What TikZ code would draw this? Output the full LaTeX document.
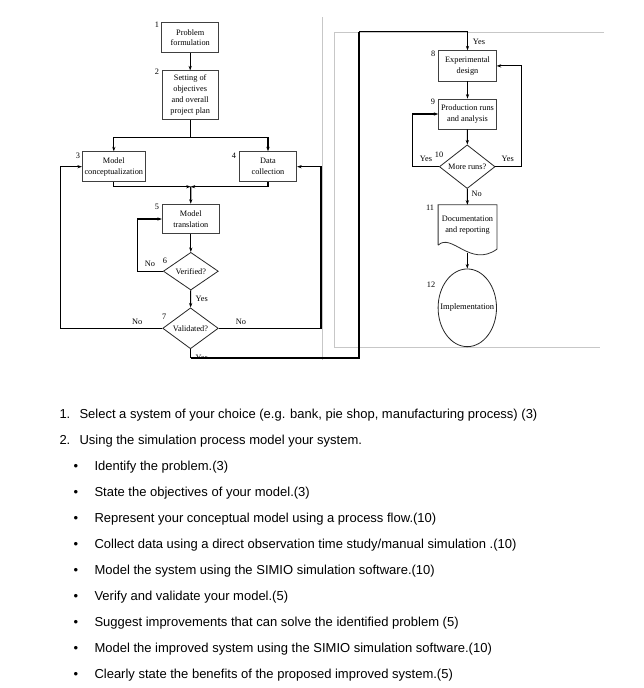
\documentclass[tikz,border=0pt]{standalone}
\usepackage{fontspec}
\setmainfont{Liberation Serif}
\newfontfamily\sansf{Liberation Sans}
\usetikzlibrary{shapes.geometric,arrows.meta}
\begin{document}
\begin{tikzpicture}[x=1pt,y=-1pt,
  conn/.style={line width=1.1pt,-{Stealth[length=4.5pt,width=3.2pt]}},
  plain/.style={line width=1.1pt},
  thickline/.style={line width=1.9pt},
  boxn/.style={draw=black!75,line width=0.8pt,inner sep=0pt,align=center,font=\fontsize{8.3}{10.8}\selectfont},
  dia/.style={diamond,draw=black!85,line width=0.8pt,inner sep=0pt,font=\fontsize{8.3}{10}\selectfont},
  lbl/.style={font=\fontsize{8.3}{10}\selectfont,inner sep=0pt},
  gline/.style={draw=black!22,line width=0.8pt},
  txt/.style={anchor=base west,inner sep=0pt,font=\sansf\fontsize{13}{15}\selectfont}
]
\useasboundingbox[fill=white] (0,0) rectangle (644,688);

% gray frame lines
\draw[gline] (322,17) -- (322,360);
\draw[gline] (604,32) -- (334,32) -- (334,347) -- (600,347);

% left flowchart
\node[boxn,minimum width=57,minimum height=30] (n1) at (190.2,37.7) {Problem\\formulation};
\node[boxn,minimum width=56.5,minimum height=48.5] (n2) at (190.2,95) {Setting of\\objectives\\and overall\\project plan};
\node[boxn,minimum width=63,minimum height=30] (n3) at (113.8,166.7) {Model\\conceptualization};
\node[boxn,minimum width=57.4,minimum height=30] (n4) at (268,166.7) {Data\\collection};
\node[boxn,minimum width=57,minimum height=29.7] (n5) at (190.8,219) {Model\\translation};
\node[dia,minimum width=55,minimum height=37.7] (d6) at (190.8,271.2) {Verified?};
\node[dia,minimum width=55.6,minimum height=38] (d7) at (190.5,328.3) {Validated?};

% right flowchart
\node[boxn,minimum width=57.6,minimum height=30.3] (n8) at (467.5,65.9) {Experimental\\design};
\node[boxn,minimum width=57.6,minimum height=30] (n9) at (467.5,114) {Production runs\\and analysis};
\node[dia,minimum width=55.7,minimum height=38.7] (d10) at (467.2,166.7) {More runs?};
\node[inner sep=0pt,minimum width=58.4,minimum height=40,align=center,font=\fontsize{8.3}{10.8}\selectfont] (n11) at (467.5,225) {Documentation\\and reporting};
\draw[draw=black!80,line width=0.8pt] (n11.south west) -- (n11.north west) -- (n11.north east) -- ([yshift=-4pt]n11.south east)
   .. controls +(-26.7,19) and +(13.7,-13) .. (n11.south west);
\node[ellipse,draw=black!85,line width=0.8pt,minimum width=58.4,minimum height=77.7,inner sep=0pt,font=\fontsize{8.5}{10}\selectfont] (e12) at (467.3,307.8) {\makebox[0pt]{Implementation}};

% step numbers
\node[lbl] (l1) at (157,25) {1};
\node[lbl] (l2) at (157,72) {2};
\node[lbl] (l3) at (78,156) {3};
\node[lbl] (l4) at (234,156) {4};
\node[lbl] (l5) at (157,207) {5};
\node[lbl] (l6) at (165,261) {6};
\node[lbl] (l7) at (164.3,316.7) {7};
\node[lbl] (l8) at (433.3,53.3) {8};
\node[lbl] (l9) at (433,102) {9};
\node[lbl] (l10) at (439,155) {10};
\node[lbl] (l11) at (430,207.3) {11};
\node[lbl] (l12) at (431,284.3) {12};

% branch labels
\node[lbl] (y6) at (150,264) {No};
\node[lbl] (y6b) at (201.7,299.3) {Yes};
\node[lbl] (y7l) at (137.3,321.7) {No};
\node[lbl] (y7r) at (241,321.7) {No};
\begin{scope}
\clip (180,345) rectangle (230,358);
\node[lbl] (y7b) at (201.7,358) {Yes};
\end{scope}
\node[lbl] (y8) at (479,41.7) {Yes};
\node[lbl] (y10l) at (426,159.3) {Yes};
\node[lbl] (y10r) at (507.7,159.3) {Yes};
\node[lbl] (y10b) at (476.7,194) {No};

% connectors left
\draw[conn] (n1) -- (n2);
\coordinate (s1) at (190.2,137.7);
\draw[plain] (n2) -- (s1);
\draw[conn] (s1) -| (n3);
\draw[conn] (s1) -| (n4);
\coordinate (m1) at (190.7,186.7);
\draw[conn] (n3) |- (m1);
\draw[conn] (n4) |- (m1);
\draw[conn] (m1) -- (n5);
\draw[conn] (n5) -- (d6);
\coordinate (c6) at (137.3,271.2);
\draw[conn] (d6) -- (c6) |- (n5);
\draw[conn] (d6) -- (d7);
\coordinate (c7l) at (60.7,328.3);
\draw[conn] (d7) -- (c7l) |- (n3);
\coordinate (c7r) at (321,328.3);
\draw[conn] (d7) -- (c7r) |- (n4);

% long connector to step 8
\coordinate (b1) at (190.5,358);
\coordinate (b2) at (359.3,358);
\coordinate (b3) at (359.3,31.7);
\draw[plain] (d7) -- (b1);
\draw[thickline] (b1) -- (b2) -- (b3);
\draw[conn] (b3) -| (n8);

% connectors right
\draw[conn] (n8) -- (n9);
\draw[conn] (n9) -- (d10);
\coordinate (c10l) at (412.7,166.7);
\draw[conn] (d10) -- (c10l) |- (n9);
\coordinate (c10r) at (521.3,166.7);
\draw[conn] (d10) -- (c10r) |- (n8);
\draw[conn] (d10) -- (n11);
\coordinate (n11b) at (467.3,252.5);
\draw[conn] (n11b) -- (e12);

% text block
\node[txt] (t1n) at (59.3,418) {1.};
\node[txt] (t1) at (79.3,418) {Select a system of your choice (e.g. bank, pie shop, manufacturing process) (3)};
\node[txt] (t2n) at (59.3,444) {2.};
\node[txt] (t2) at (79.3,444) {Using the simulation process model your system.};
\node[txt] (p1) at (73.5,470) {•};
\node[txt] (q1) at (94.3,470) {Identify the problem.(3)};
\node[txt] (p2) at (73.5,496) {•};
\node[txt] (q2) at (94.3,496) {State the objectives of your model.(3)};
\node[txt] (p3) at (73.5,522) {•};
\node[txt] (q3) at (94.3,522) {Represent your conceptual model using a process flow.(10)};
\node[txt] (p4) at (73.5,548) {•};
\node[txt] (q4) at (94.3,548) {Collect data using a direct observation time study/manual simulation .(10)};
\node[txt] (p5) at (73.5,574) {•};
\node[txt] (q5) at (94.3,574) {Model the system using the SIMIO simulation software.(10)};
\node[txt] (p6) at (73.5,600) {•};
\node[txt] (q6) at (94.3,600) {Verify and validate your model.(5)};
\node[txt] (p7) at (73.5,626) {•};
\node[txt] (q7) at (94.3,626) {Suggest improvements that can solve the identified problem (5)};
\node[txt] (p8) at (73.5,652) {•};
\node[txt] (q8) at (94.3,652) {Model the improved system using the SIMIO simulation software.(10)};
\node[txt] (p9) at (73.5,678) {•};
\node[txt] (q9) at (94.3,678) {Clearly state the benefits of the proposed improved system.(5)};
\end{tikzpicture}
\end{document}
